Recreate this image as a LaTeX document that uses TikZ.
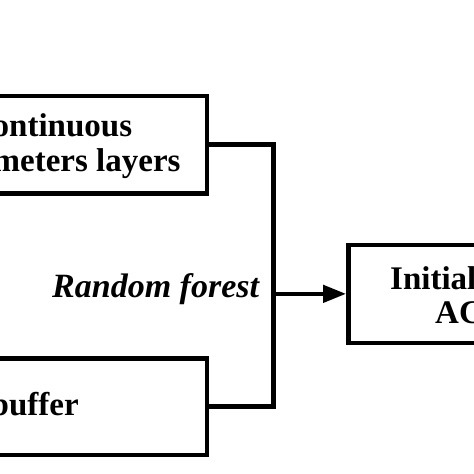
\documentclass[tikz,border=0pt]{standalone}
\usepackage{fontspec}
\setmainfont{Liberation Serif}
\usetikzlibrary{arrows.meta}
\begin{document}
\begin{tikzpicture}[x=1pt,y=-1pt,
  box/.style={draw,line width=4.4pt,rectangle,inner sep=0pt},
  lbl/.style={inner sep=0pt,font=\fontsize{33}{35}\selectfont\bfseries},
  conn/.style={line width=4.4pt},
  arr/.style={line width=4.4pt,-{Triangle[length=23pt,width=17pt]}}]
\useasboundingbox (0,0) rectangle (474,474);
\fill[white] (0,0) rectangle (474,474);
\clip (0,0) rectangle (474,474);
% boxes
\node[box,minimum width=306.7pt,minimum height=97.6pt] (top) at (53.35,144.5) {};
\node[box,minimum width=306.7pt,minimum height=96.7pt] (bot) at (53.35,406.65) {};
\node[box,minimum width=211.7pt,minimum height=97.7pt] (init) at (454.15,293.85) {};
% texts
\node[lbl,anchor=base west] (t1) at (-7.5,136) {ontinuous};
\node[lbl,anchor=base west] (t2) at (-7.5,171) {meters layers};
\node[lbl,anchor=base west] (t3) at (-9.5,415) {buffer};
\node[lbl,anchor=base west] (i1) at (390,289) {Initial};
\node[lbl,anchor=base west] (i2) at (435,323) {AC};
\node[lbl,anchor=base west,font=\fontsize{34}{36}\selectfont\bfseries\itshape] (rf) at (52,297) {Random forest};
% connectors
\coordinate (j) at (273.3,293.85);
\draw[conn] (top.east) -| (j) |- (bot.east);
\draw[arr] (j) -- (init.west);
\end{tikzpicture}
\end{document}
